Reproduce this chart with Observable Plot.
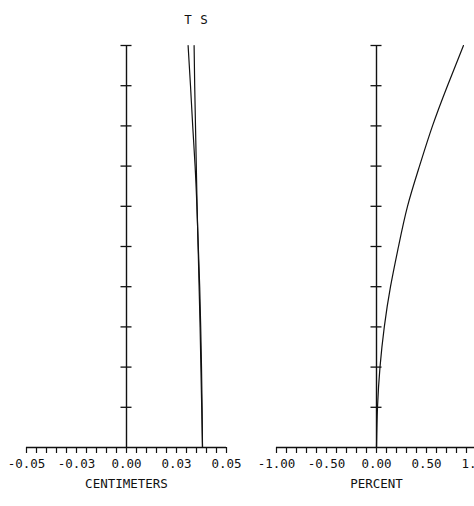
<!DOCTYPE html>
<html>
<head>
<meta charset="utf-8">
<script src="https://cdn.jsdelivr.net/npm/d3@7"></script>
<script src="https://cdn.jsdelivr.net/npm/@observablehq/plot@0.6"></script>
<style>
  html, body { margin: 0; padding: 0; background: #fff; overflow: hidden; }
  #wrap { position: relative; width: 474px; height: 506px; overflow: hidden; }
  #left, #right { position: absolute; top: 0; width: 250px; height: 506px; }
  #left { left: 0; }
  #right { left: 250px; }
  svg { font-family: "DejaVu Sans Mono", "Liberation Mono", monospace; max-width: none !important; }
</style>
</head>
<body>
<div id="wrap"><div id="left"></div><div id="right"></div></div>
<script>
// Relative field height (0 = axis, 1 = full field)
const field = [0, 0.1, 0.2, 0.3, 0.4, 0.5, 0.6, 0.7, 0.8, 0.9, 1.0];
const fieldTicks = [0.1, 0.2, 0.3, 0.4, 0.5, 0.6, 0.7, 0.8, 0.9, 1.0];

// Astigmatic field curves (centimeters)
const tangential = [0.0380, 0.0378, 0.0375, 0.0371, 0.0366, 0.0359, 0.0352, 0.0343, 0.0331, 0.0320, 0.0308];
const sagittal   = [0.0380, 0.0376, 0.0372, 0.0368, 0.0363, 0.0358, 0.0353, 0.0349, 0.0345, 0.0341, 0.0338];

// Distortion (percent)
const distortion = [0.000, 0.010, 0.035, 0.078, 0.140, 0.220, 0.310, 0.430, 0.560, 0.710, 0.870];

// Axis ticks and labels
const cmDomain = [-0.05, 0.05];
const cmMinorTicks = d3.range(-0.05, 0.05001, 0.005);
const cmTickValues = [-0.05, -0.025, 0, 0.025, 0.05];
const cmTickLabels = ["-0.05", "-0.03", "0.00", "0.03", "0.05"];

const pctDomain = [-1, 1];
const pctMinorTicks = d3.range(-1, 1.0001, 0.1);
const pctTickValues = [-1, -0.5, 0, 0.5, 1];
const pctTickLabels = ["-1.00", "-0.50", "0.00", "0.50", "1.00"];

const curveLabels = ["T", "S"];

const tRows = field.map((f, i) => ({field: f, value: tangential[i]}));
const sRows = field.map((f, i) => ({field: f, value: sagittal[i]}));
const dRows = field.map((f, i) => ({field: f, value: distortion[i]}));

function panel({domain, minorTicks, tickValues, tickLabels, title, series, extra = []}) {
  const span = domain[1] - domain[0];
  const half = span * 0.0275; // half width of cross ticks on the vertical axis
  return Plot.plot({
    width: 250,
    height: 506,
    marginLeft: 26,
    marginRight: 24,
    marginTop: 45,
    marginBottom: 59,
    style: {fontFamily: '"DejaVu Sans Mono", monospace', fontSize: "12.5px", background: "#fff", color: "#111", maxWidth: "none"},
    x: {domain, label: null},
    y: {domain: [0, 1], axis: null, label: null},
    marks: [
      Plot.ruleY([0], {stroke: "#111", strokeWidth: 1.4}),
      Plot.axisX({ticks: minorTicks, tickSize: 6, tickFormat: () => "", label: null, stroke: "#111", strokeWidth: 1.2}),
      Plot.text(tickValues, {x: d => d, frameAnchor: "bottom", dy: 20, text: (d, i) => tickLabels[i], fill: "#111"}),
      Plot.text([title], {frameAnchor: "bottom", dy: 40, fill: "#111"}),
      Plot.ruleX([0], {y1: 0, y2: 1, stroke: "#111", strokeWidth: 1.4}),
      Plot.ruleY(fieldTicks, {y: d => d, x1: -half, x2: half, stroke: "#111", strokeWidth: 1.3}),
      ...series.map(rows => Plot.line(rows, {x: "value", y: "field", curve: "natural", stroke: "#111", strokeWidth: 1.2})),
      ...extra
    ]
  });
}

const left = panel({
  domain: cmDomain, minorTicks: cmMinorTicks, tickValues: cmTickValues, tickLabels: cmTickLabels,
  title: "CENTIMETERS", series: [tRows, sRows],
  extra: [
    Plot.text([curveLabels[0]], {x: tangential[tangential.length - 1], y: 1, dy: -26, fill: "#111"}),
    Plot.text([curveLabels[1]], {x: sagittal[sagittal.length - 1], y: 1, dx: 10, dy: -26, fill: "#111"})
  ]
});
const right = panel({
  domain: pctDomain, minorTicks: pctMinorTicks, tickValues: pctTickValues, tickLabels: pctTickLabels,
  title: "PERCENT", series: [dRows]
});
document.getElementById("left").append(left);
document.getElementById("right").append(right);
</script>
</body>
</html>
